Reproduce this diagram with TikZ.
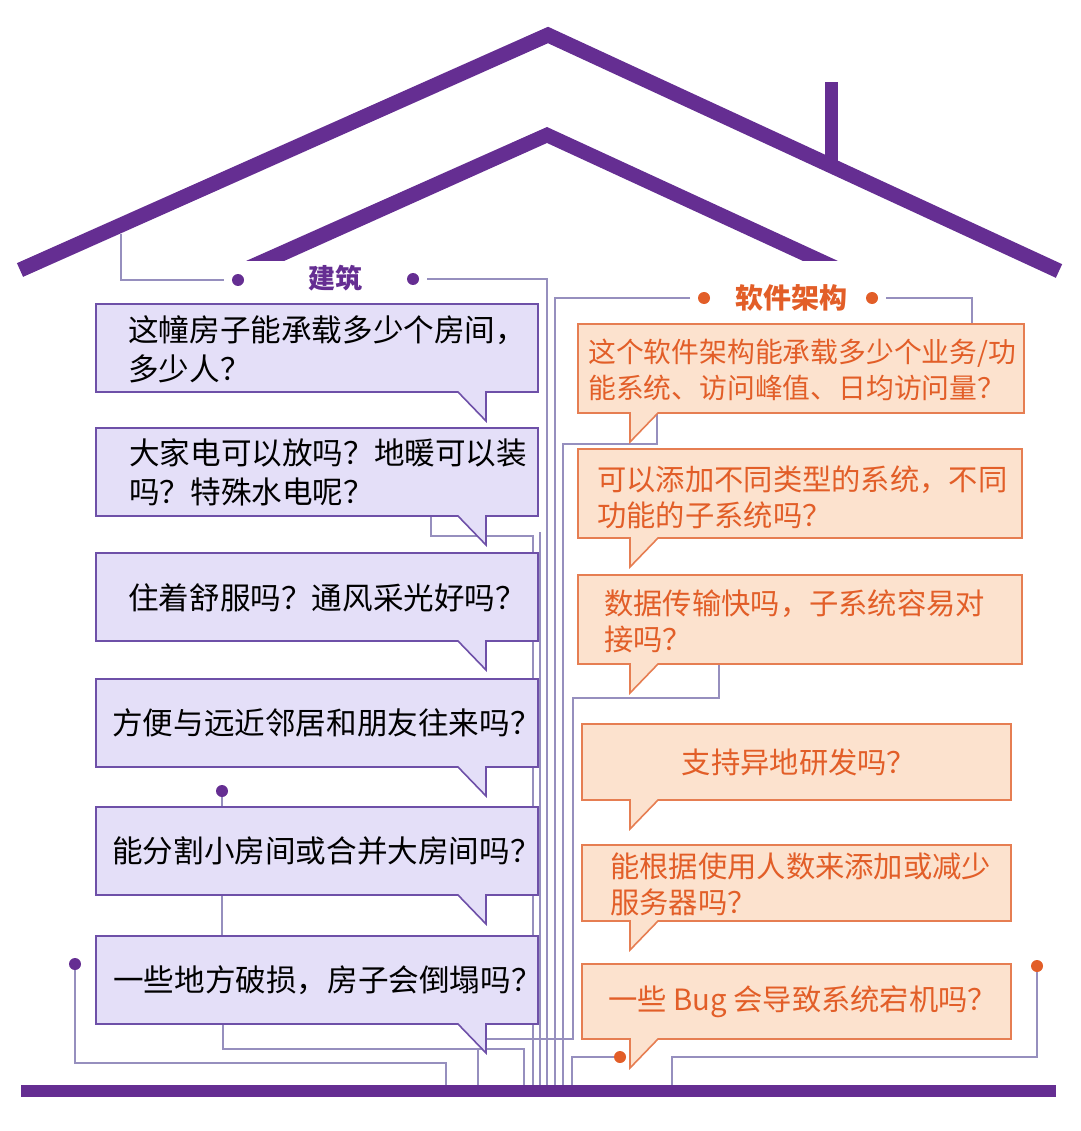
\documentclass[tikz,border=0pt]{standalone}
\usepackage{fontspec}
\setmainfont{Noto Sans CJK SC}
\usetikzlibrary{positioning}

\definecolor{roofc}{RGB}{101,46,146}
\definecolor{bldgfill}{RGB}{228,223,248}
\definecolor{bldgline}{RGB}{110,80,168}
\definecolor{softfill}{RGB}{252,226,206}
\definecolor{softline}{RGB}{230,126,82}
\definecolor{softtext}{RGB}{226,94,40}
\definecolor{wirec}{RGB}{150,143,190}

\tikzset{
  bldgbox/.style={draw=bldgline,fill=bldgfill,line width=1.6pt},
  softbox/.style={draw=softline,fill=softfill,line width=1.6pt},
  wire/.style={draw=wirec,line width=1.2pt},
  dot/.style={circle,fill=#1,minimum size=12pt,inner sep=0pt},
  tdot/.style={dot=#1,outer sep=8pt},
  btext/.style={anchor=west,align=left,inner sep=0pt,text=black,font=\fontsize{30.6}{39}\selectfont},
  stext/.style={anchor=west,align=left,inner sep=0pt,text=softtext,font=\fontsize{29.3}{36}\selectfont},
}

\newcommand{\bldgcall}[1]{\draw[bldgbox] (96,#1) -- (538,#1) -- (538,#1+88) -- (486,#1+88) -- (486,#1+117) -- (458,#1+88) -- (96,#1+88) -- cycle;}
\newcommand{\softcall}[4]{\draw[softbox] (#1,#3) -- (#2,#3) -- (#2,#4) -- (658,#4) -- (630,#4+29) -- (630,#4) -- (#1,#4) -- cycle;}

\begin{document}
\begin{tikzpicture}[x=1pt,y=-1pt]
  \useasboundingbox (0,0) rectangle (1080,1131);

  % roof and floor
  \draw[roofc,line width=15pt] (20,270) -- (548,35) -- (1059,271);
  \fill[roofc] (246,261) -- (547,127) -- (838,261) -- (803,261) -- (547,143) -- (284,261) -- cycle;
  \fill[roofc] (825,82) rectangle (838,163);
  \fill[roofc] (21,1085) rectangle (1056,1097);

  % titles
  \node[text=roofc,font=\fontsize{27}{30}\selectfont\bfseries] (bt) at (335,278) {建筑};
  \node[text=softtext,font=\fontsize{28}{30}\selectfont\bfseries] (st) at (791,298) {软件架构};
  \node[tdot=roofc] (bl) at (238,280) {};
  \node[tdot=roofc] (br) at (413,279) {};
  \node[tdot=softtext] (sl) at (704,298) {};
  \node[tdot=softtext] (sr) at (872,298) {};
  \node[dot=roofc] (d1) at (222,791) {};
  \node[dot=roofc] (d2) at (75,964) {};
  \node[dot=softtext] (d3) at (620,1057) {};
  \node[dot=softtext] (d4) at (1037,966) {};

  \coordinate (g0) at (121,234);
  \coordinate (g1) at (547,1085);
  \coordinate (g2) at (555,1085);
  \coordinate (g3) at (972,324);

  % wires
  \draw[wire] (g0) |- (bl.west);
  \draw[wire] (br.east) -| (g1);
  \draw[wire] (sl.west) -| (g2);
  \draw[wire] (sr.east) -| (g3);
  \draw[wire] (657,413) -- (657,444) -- (563,444) -- (563,1085);
  \draw[wire] (431,515) -- (431,536) -- (533,536) -- (533,1085);
  \draw[wire] (540,532) -- (540,1085);
  \draw[wire] (719,664) -- (719,698) -- (573,698) -- (573,1039) -- (486,1039);
  \draw[wire] (d1) -- (222,807) (222,895) -- (222,936);
  \draw[wire] (223,1023) -- (223,1049) -- (524,1049) -- (524,1085);
  \draw[wire] (478,1049) -- (478,1085);
  \draw[wire] (d2) |- (446,1063) -- (446,1085);
  \draw[wire] (d3.west) -| (572,1085);
  \draw[wire] (672,1085) |- (1037,1057) -- (d4);

  % building side
  \foreach \t in {304,428,553,679,807,936} {\bldgcall{\t}}
  \node[btext] (b1) at (128,349) {这幢房子能承载多少个房间，\\多少人？};
  \node[btext] (b2) at (129,472) {大家电可以放吗？地暖可以装\\吗？特殊水电呢？};
  \node[btext] (b3) at (128,598) {住着舒服吗？通风采光好吗？};
  \node[btext] (b4) at (112,723) {方便与远近邻居和朋友往来吗？};
  \node[btext] (b5) at (112,851) {能分割小房间或合并大房间吗？};
  \node[btext] (b6) at (113,980) {一些地方破损，房子会倒塌吗？};

  % software side
  \softcall{578}{1024}{324}{413}
  \softcall{578}{1022}{449}{538}
  \softcall{578}{1022}{575}{664}
  \softcall{582}{1011}{724}{800}
  \softcall{582}{1011}{845}{921}
  \softcall{582}{1011}{964}{1039}
  \node[stext,font=\fontsize{27.8}{36}\selectfont] (s1) at (588,370) {这个软件架构能承载多少个业务/功\\能系统、访问峰值、日均访问量？};
  \node[stext] (s2) at (597,497) {可以添加不同类型的系统，不同\\功能的子系统吗？};
  \node[stext] (s3) at (604,621) {数据传输快吗，子系统容易对\\接吗？};
  \node[stext,anchor=center] (s4) at (799,762) {支持异地研发吗？};
  \node[stext] (s5) at (610,884) {能根据使用人数来添加或减少\\服务器吗？};
  \node[stext] (s6) at (608,1002) {一些 Bug 会导致系统宕机吗？};
\end{tikzpicture}
\end{document}
